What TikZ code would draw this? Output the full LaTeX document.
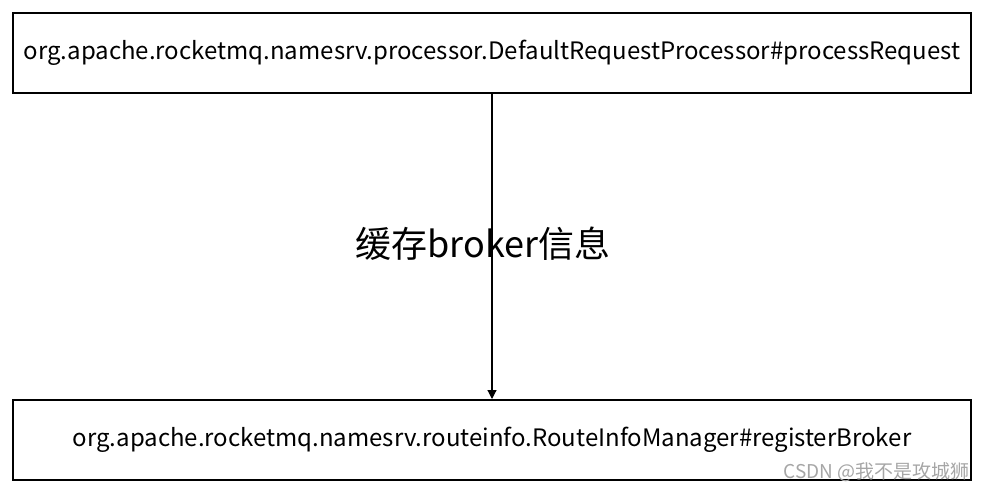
\documentclass[tikz,border=0pt]{standalone}
\usepackage{fontspec}
\setmainfont{Noto Sans CJK SC}
\newfontfamily\markfont{Noto Sans CJK SC}
\usetikzlibrary{arrows.meta}
\tikzset{
    procbox/.style={draw, line width=2pt, minimum width=958pt, minimum height=80pt, inner sep=0pt, font=\fontsize{24}{28}\selectfont},
    flow/.style={-{Triangle[length=9pt,width=9pt]}, line width=1.2pt},
    flowlabel/.style={font=\fontsize{36}{40}\selectfont, fill=none}
    }

\begin{document}
\begin{tikzpicture}[x=1pt,y=-1pt]
	\useasboundingbox (0,0) rectangle (985,494);
	\node[procbox] (P) at (492,53) {org.apache.rocketmq.namesrv.processor.DefaultRequestProcessor\#processRequest};
	\node[procbox] (R) at (492,440) {org.apache.rocketmq.namesrv.routeinfo.RouteInfoManager\#registerBroker};

	\draw[flow] (P.south) -- (R.north);
	\node[flowlabel] (L) at (483,244) {缓存broker信息};

	% watermark
	\node[anchor=east, text=black!35, font=\markfont\fontsize{19}{21}\selectfont, inner sep=0pt] (W) at (970,472) {CSDN @我不是攻城狮};
\end{tikzpicture}
\end{document}
